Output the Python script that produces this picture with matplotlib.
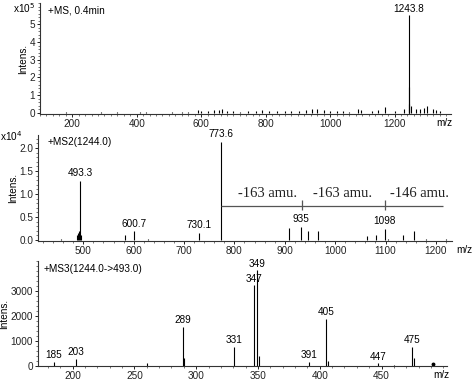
import matplotlib
matplotlib.use("Agg")
import matplotlib.pyplot as plt
from matplotlib.ticker import MultipleLocator, FixedLocator, FormatStrFormatter

plt.rcParams['font.family'] = ['Liberation Sans', 'DejaVu Sans']

# Panel 1: +MS, 0.4min (intensity x1e5)
ms1_mz = [180, 290, 340, 410, 430, 510, 540, 560, 590, 600, 620, 640, 655, 665, 680, 700,
          720, 745, 770, 790, 810, 835, 860, 880, 905, 925, 945, 960, 980, 1000, 1020, 1040,
          1060, 1085, 1095, 1130, 1150, 1170, 1200, 1230, 1243.8, 1244.8, 1245.8, 1252, 1265,
          1280, 1290, 1300, 1320, 1330, 1340]
ms1_int = [0.03, 0.03, 0.03, 0.05, 0.03, 0.03, 0.04, 0.05, 0.15, 0.1, 0.12, 0.18, 0.15, 0.25,
           0.12, 0.1, 0.08, 0.12, 0.1, 0.14, 0.1, 0.12, 0.1, 0.12, 0.1, 0.15, 0.2, 0.25, 0.15,
           0.12, 0.1, 0.1, 0.08, 0.2, 0.15, 0.12, 0.18, 0.35, 0.1, 0.2, 5.5, 1.45, 0.5, 0.4,
           0.25, 0.2, 0.3, 0.4, 0.2, 0.15, 0.1]
ms1_labels = [(1243.8, "1243.8")]
ms1_xticks = [200, 400, 600, 800, 1000, 1200]
ms1_yticks = [0, 1, 2, 3, 4, 5]

# Panel 2: +MS2(1244.0) (intensity x1e4)
ms2_mz = [455, 488, 490, 492, 493.3, 495, 583, 600.7, 628, 730.1, 773.6, 909, 933, 946,
          966, 1063, 1081, 1098, 1105, 1135, 1157, 1180, 1220]
ms2_int = [0.02, 0.1, 0.15, 0.2, 1.28, 0.1, 0.1, 0.19, 0.03, 0.15, 2.13, 0.27, 0.28, 0.2,
           0.19, 0.08, 0.12, 0.24, 0.03, 0.1, 0.2, 0.03, 0.02]
ms2_labels = [(493.3, "493.3"), (600.7, "600.7"), (730.1, "730.1"), (773.6, "773.6"),
              (933, "935"), (1098, "1098")]
ms2_xticks = [500, 600, 700, 800, 900, 1000, 1100, 1200]
ms2_yticks = [0.0, 0.5, 1.0, 1.5, 2.0]
loss_marks = [773.6, 935, 1098]
loss_texts = ["-163 amu.", "-163 amu.", "-146 amu."]

# Panel 3: +MS3(1244.0->493.0)
ms3_mz = [185, 203, 260, 289, 290.2, 331, 347, 349, 350.5, 391, 405, 406.5, 447, 460, 475, 476.5]
ms3_int = [160, 280, 100, 1560, 300, 760, 3240, 3840, 400, 150, 1880, 200, 100, 40, 760, 300]
ms3_labels = [(185, "185"), (203, "203"), (289, "289"), (331, "331"), (347, "347"),
              (349, "349"), (391, "391"), (405, "405"), (447, "447"), (475, "475")]
ms3_xticks = [200, 250, 300, 350, 400, 450]
ms3_yticks = [0, 1000, 2000, 3000]

fig = plt.figure(figsize=(4.74, 3.81), dpi=100)
ax1 = fig.add_axes([40/474, 1-114/381, 411/474, 111/381])
ax2 = fig.add_axes([38/474, 1-241/381, 414/474, 106/381])
ax3 = fig.add_axes([38/474, 1-366/381, 409/474, 105/381])

FS = 7.2


def style(ax, xticks, yticks):
    for s in ("top", "right"):
        ax.spines[s].set_visible(False)
    for s in ("left", "bottom"):
        ax.spines[s].set_linewidth(0.8)
        ax.spines[s].set_color("#333333")
    ax.xaxis.set_major_locator(FixedLocator(xticks))
    ax.yaxis.set_major_locator(FixedLocator(yticks))
    ax.tick_params(axis="both", which="major", labelsize=FS, length=2.5, width=0.7, pad=1,
                   colors="#222222")
    ax.tick_params(axis="both", which="minor", length=1.5, width=0.5, colors="#444444")
    ax.set_ylabel("Intens.", fontsize=FS, labelpad=1)


def stems(ax, xs, ys, lw=0.8):
    ax.vlines(xs, 0, ys, colors="black", linewidth=lw)


def labels(ax, items, xs, ys, dy):
    lut = dict(zip(xs, ys))
    for x, t in items:
        ax.text(x, lut[x] + dy, t, ha="center", va="bottom", fontsize=FS)


def mz_label(ax, xfrac):
    ax.annotate("m/z", xy=(xfrac, 0), xycoords="axes fraction", xytext=(0, -2.6),
                textcoords="offset points", fontsize=FS, ha="center", va="top")


# Panel 1
stems(ax1, ms1_mz, ms1_int)
labels(ax1, ms1_labels, ms1_mz, ms1_int, 0.1)
ax1.set_xlim(100, 1375)
ax1.set_ylim(-0.06, 6.2)
ax1.xaxis.set_minor_locator(MultipleLocator(20))
ax1.yaxis.set_minor_locator(MultipleLocator(0.2))
style(ax1, ms1_xticks, ms1_yticks)
ax1.text(0.02, 0.93, "+MS, 0.4min", transform=ax1.transAxes, fontsize=FS, va="center")
ax1.text(-0.04, 0.95, r"x10$^5$", transform=ax1.transAxes, fontsize=FS, va="center", ha="center")
mz_label(ax1, 0.985)

# Panel 2
stems(ax2, ms2_mz, ms2_int)
labels(ax2, ms2_labels, ms2_mz, ms2_int, 0.06)
ax2.hlines(0.75, loss_marks[0], 1215, colors="#555555", linewidth=0.9)
ax2.vlines(loss_marks[1:], 0.65, 0.88, colors="#555555", linewidth=0.9)
loss_pos = [865, 1014, 1168]
for x, t in zip(loss_pos, loss_texts):
    ax2.text(x, 0.86, t, ha="center", va="bottom", fontsize=10.5, color="#222222",
             family=["Liberation Serif", "DejaVu Serif"])
ax2.set_xlim(410, 1232)
ax2.set_ylim(-0.02, 2.28)
ax2.xaxis.set_minor_locator(MultipleLocator(20))
ax2.yaxis.set_minor_locator(MultipleLocator(0.1))
style(ax2, ms2_xticks, ms2_yticks)
ax2.yaxis.set_major_formatter(FormatStrFormatter("%.1f"))
ax2.text(0.024, 0.93, "+MS2(1244.0)", transform=ax2.transAxes, fontsize=FS, va="center")
ax2.text(-0.065, 0.99, r"x10$^4$", transform=ax2.transAxes, fontsize=FS, va="center", ha="center")
mz_label(ax2, 1.03)

# Panel 3
stems(ax3, ms3_mz, ms3_int)
labels(ax3, ms3_labels, ms3_mz, ms3_int, 60)
ax3.plot([492], [60], marker="o", markersize=1.8, color="black")
ax3.set_xlim(172, 503)
ax3.set_ylim(-20, 4220)
ax3.xaxis.set_minor_locator(MultipleLocator(10))
ax3.yaxis.set_minor_locator(MultipleLocator(200))
style(ax3, ms3_xticks, ms3_yticks)
ax3.text(0.014, 0.92, "+MS3(1244.0->493.0)", transform=ax3.transAxes, fontsize=FS, va="center")
mz_label(ax3, 0.985)

fig.savefig("out.png", dpi=100)
